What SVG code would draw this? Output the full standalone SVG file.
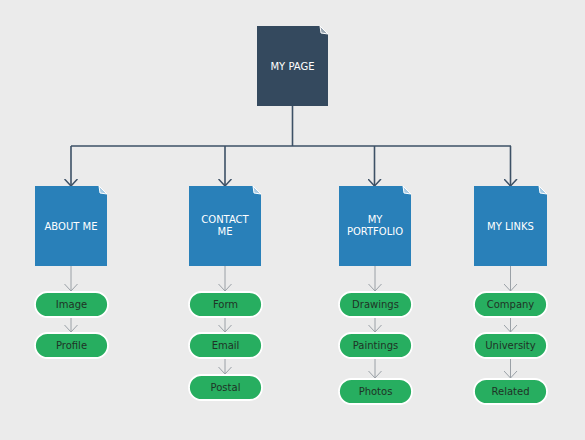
<svg xmlns="http://www.w3.org/2000/svg" width="585" height="440" viewBox="0 0 585 440">
<style>
.bg{fill:#ebebeb}
.page{fill:#2980b9}
.root{fill:#34495e}
.fold{fill:#a9cbe4;stroke:#ffffff;stroke-width:1}
.rootfold{fill:#9aa6b2;stroke:#ffffff;stroke-width:1}
.pill{fill:#27ae60;stroke:#ffffff;stroke-width:1.8}
.wt{font-family:"DejaVu Sans",Verdana,sans-serif;font-size:10px;fill:#ffffff;text-anchor:middle}
.gt{font-family:"DejaVu Sans",Verdana,sans-serif;font-size:10px;fill:#1f3326;text-anchor:middle}
.main{fill:none;stroke:#3d5166;stroke-width:1.6}
.sub{fill:none;stroke:#9aa0a6;stroke-width:1}
</style>
<defs>
<marker id="ad" markerUnits="userSpaceOnUse" viewBox="0 0 8 14" markerWidth="8" markerHeight="14" refX="7" refY="7" orient="auto">
<path d="M0,0.5 L7,7 L0,13.5" fill="none" stroke="#3d5166" stroke-width="1.5"/>
</marker>
<marker id="ag" markerUnits="userSpaceOnUse" viewBox="0 0 8 14" markerWidth="8" markerHeight="14" refX="7" refY="7" orient="auto">
<path d="M0,0.5 L7,7 L0,13.5" fill="none" stroke="#9aa0a6" stroke-width="1"/>
</marker>
</defs>
<rect class="bg" x="0" y="0" width="585" height="440"/>
<g id="connectors">
<path class="main" d="M292.5,106 V146"/>
<path class="main" d="M71,146 H511"/>
<path class="main" d="M71,146 V186" marker-end="url(#ad)"/>
<path class="main" d="M225,146 V186" marker-end="url(#ad)"/>
<path class="main" d="M374.5,146 V186" marker-end="url(#ad)"/>
<path class="main" d="M510.5,146 V186" marker-end="url(#ad)"/>
<path class="sub" d="M71,266 V291" marker-end="url(#ag)"/>
<path class="sub" d="M71,317 V332" marker-end="url(#ag)"/>
<path class="sub" d="M225,266 V291" marker-end="url(#ag)"/>
<path class="sub" d="M225,317 V332" marker-end="url(#ag)"/>
<path class="sub" d="M225,358 V374" marker-end="url(#ag)"/>
<path class="sub" d="M375,266 V291" marker-end="url(#ag)"/>
<path class="sub" d="M375,317 V332" marker-end="url(#ag)"/>
<path class="sub" d="M375,358 V378" marker-end="url(#ag)"/>
<path class="sub" d="M510.5,266 V291" marker-end="url(#ag)"/>
<path class="sub" d="M510.5,317 V332" marker-end="url(#ag)"/>
<path class="sub" d="M510.5,358 V378" marker-end="url(#ag)"/>
</g>
<g id="my-page">
<path class="root" d="M257,26 H320 L328,34 V106 H257 Z"/>
<path class="rootfold" d="M320,26 L321,33 L328,34 Z"/>
<text class="wt" x="292.5" y="70">MY PAGE</text>
</g>
<g id="about-me">
<path class="page" d="M35,186 H99 L107,194 V266 H35 Z"/>
<path class="fold" d="M99,186 L100,193 L107,194 Z"/>
<text class="wt" x="71" y="230">ABOUT ME</text>
</g>
<g id="contact-me">
<path class="page" d="M189,186 H253 L261,194 V266 H189 Z"/>
<path class="fold" d="M253,186 L254,193 L261,194 Z"/>
<text class="wt" x="225" y="223">CONTACT</text>
<text class="wt" x="225" y="235">ME</text>
</g>
<g id="my-portfolio">
<path class="page" d="M339,186 H403 L411,194 V266 H339 Z"/>
<path class="fold" d="M403,186 L404,193 L411,194 Z"/>
<text class="wt" x="375" y="223">MY</text>
<text class="wt" x="375" y="235">PORTFOLIO</text>
</g>
<g id="my-links">
<path class="page" d="M474,186 H539 L547,194 V266 H474 Z"/>
<path class="fold" d="M539,186 L540,193 L547,194 Z"/>
<text class="wt" x="510.5" y="230">MY LINKS</text>
</g>
<g id="image"><rect class="pill" x="35" y="292" width="73" height="25" rx="12.5"/><text class="gt" x="71.5" y="308">Image</text></g>
<g id="profile"><rect class="pill" x="35" y="333" width="73" height="25" rx="12.5"/><text class="gt" x="71.5" y="349">Profile</text></g>
<g id="form"><rect class="pill" x="189" y="292" width="73" height="25" rx="12.5"/><text class="gt" x="225.5" y="308">Form</text></g>
<g id="email"><rect class="pill" x="189" y="333" width="73" height="25" rx="12.5"/><text class="gt" x="225.5" y="349">Email</text></g>
<g id="postal"><rect class="pill" x="189" y="375" width="73" height="25" rx="12.5"/><text class="gt" x="225.5" y="391">Postal</text></g>
<g id="drawings"><rect class="pill" x="339" y="292" width="73" height="25" rx="12.5"/><text class="gt" x="375.5" y="308">Drawings</text></g>
<g id="paintings"><rect class="pill" x="339" y="333" width="73" height="25" rx="12.5"/><text class="gt" x="375.5" y="349">Paintings</text></g>
<g id="photos"><rect class="pill" x="339" y="379" width="73" height="25" rx="12.5"/><text class="gt" x="375.5" y="395">Photos</text></g>
<g id="company"><rect class="pill" x="474" y="292" width="73" height="25" rx="12.5"/><text class="gt" x="510.5" y="308">Company</text></g>
<g id="university"><rect class="pill" x="474" y="333" width="73" height="25" rx="12.5"/><text class="gt" x="510.5" y="349">University</text></g>
<g id="related"><rect class="pill" x="474" y="379" width="73" height="25" rx="12.5"/><text class="gt" x="510.5" y="395">Related</text></g>
</svg>
